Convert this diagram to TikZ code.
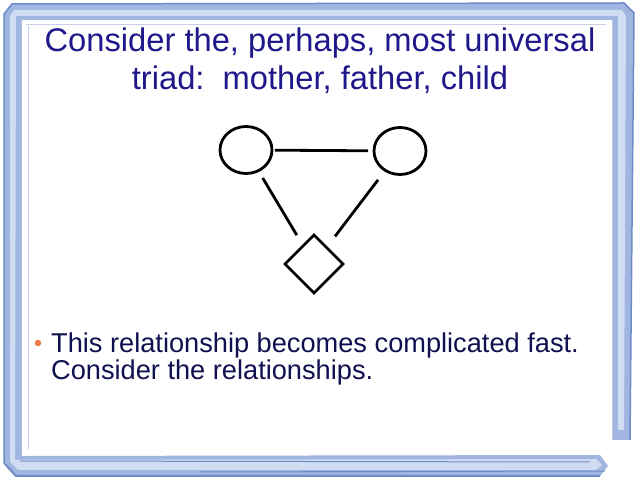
\documentclass[tikz,border=0pt]{standalone}
\usepackage{fontspec}
\setmainfont{Liberation Sans}
\usetikzlibrary{shapes.geometric}
\definecolor{titleblue}{RGB}{32,24,138}
\definecolor{bodyblue}{RGB}{16,16,80}
\definecolor{framedark}{RGB}{112,140,200}
\definecolor{framemid}{RGB}{160,182,224}
\definecolor{framelight}{RGB}{208,220,242}
\definecolor{bulletorange}{RGB}{240,120,70}
\tikzset{
  person/.style={draw, ellipse, line width=2.8pt, minimum width=52pt, minimum height=47pt, inner sep=0pt, outer sep=0pt},
  kid/.style={draw, diamond, line width=2.8pt, minimum width=58pt, minimum height=58pt, inner sep=0pt, outer sep=0pt, aspect=1},
  link/.style={line width=2.8pt},
  titletext/.style={text=titleblue, font=\fontsize{32.7}{38}\selectfont, inner sep=0pt, anchor=base},
  bodytext/.style={text=bodyblue, font=\fontsize{27.2}{32}\selectfont, inner sep=0pt, anchor=base west}
}
\begin{document}
\begin{tikzpicture}[x=1pt, y=-1pt]
\useasboundingbox (0,0) rectangle (638,478);
\fill[white] (0,0) rectangle (638,478);
% frame
\fill[framemid] (12,4) -- (624,3) -- (634,13) -- (630,440) -- (612,440) -- (612,19) -- (22,19) -- (21,456) -- (600,455) -- (608,466) -- (600,476) -- (16,476) -- (4,463) -- (4,14) -- cycle;
\fill[framelight] (14,10) -- (622,10) -- (626,16) -- (624,430) -- (618,430) -- (618,16) -- (16,16) -- (15,460) -- (596,459) -- (602,465) -- (596,470) -- (18,470) -- (10,462) -- (10,16) -- cycle;
\draw[framedark, line width=1.5pt] (4,463) -- (4,14) -- (12,4) -- (624,3) -- (634,13) -- (630,440);
\draw[framedark, line width=2pt] (4,463) -- (16,476) -- (600,476);
\draw[framedark, line width=1pt] (20,461) -- (590,462);
\draw[framedark, line width=1pt] (200,472) -- (605,471);
\draw[framedark!60, line width=0.8pt] (20,19) -- (612,19);
\draw[framedark!60, line width=0.8pt] (21,19) -- (21,456);
\draw[framedark!50, line width=0.8pt] (612,19) -- (612,440);
\draw[framedark!40, line width=0.6pt] (28,26) -- (28,450);
\draw[framedark!40, line width=0.6pt] (26,24) -- (606,24);
% title
\node[titletext] (t1) at (320,52) {Consider the, perhaps, most universal};
\node[titletext] (t2) at (320,90) {triad:\ \ mother, father, child};
% diagram
\node[person] (mom) at (246,150) {};
\node[person] (dad) at (400,151) {};
\node[kid] (child) at (314,264) {};
\draw[link, shorten <=3pt, shorten >=6pt] (mom) -- (dad);
\draw[link, shorten <=8.5pt, shorten >=12.5pt] (mom) -- (child);
\draw[link, shorten <=12pt, shorten >=14pt] (dad) -- (child);
% bullet text
\node[circle, fill=bulletorange, inner sep=0pt, minimum size=6.5pt] (bul) at (38,343) {};
\node[bodytext] (b1) at (51,353) {This relationship becomes complicated fast.};
\node[bodytext] (b2) at (51,380) {Consider the relationships.};
\end{tikzpicture}
\end{document}
